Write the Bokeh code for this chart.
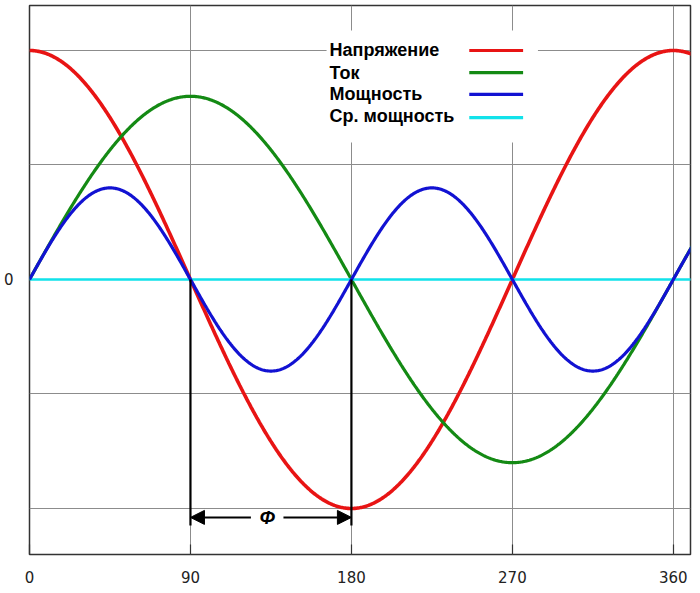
import numpy as np
from bokeh.plotting import figure
from bokeh.models import (FixedTicker, Range1d, Label, Arrow, NormalHead,
                          BoxAnnotation)
from bokeh.embed import file_html
from bokeh.resources import INLINE

# ---- data ----
x_ticks = [0, 90, 180, 270, 360]
x_tick_labels = ["0", "90", "180", "270", "360"]
y_grid_ticks = [-1.0, -0.5, 0.0, 0.5, 1.0]
voltage_amplitude = 1.0      # cosine
current_amplitude = 0.8      # sine (lags voltage by 90 deg)
phase_shift_deg = 90
avg_power = 0.0
series_names = ["Напряжение", "Ток", "Мощность", "Ср. мощность"]
series_colors = ["#e81414", "#148a14", "#1212d2", "#12e2ea"]

# angle samples (function plot)
deg = np.linspace(0, 372, 745)
rad = np.radians(deg)
voltage = voltage_amplitude * np.cos(rad)
current = current_amplitude * np.sin(rad)
power = voltage * current
avg = np.full_like(deg, avg_power)

# ---- figure ----
p = figure(width=700, height=593, output_backend="svg", toolbar_location=None,
           x_range=Range1d(0, 369.6), y_range=Range1d(-1.201, 1.1965),
           min_border_left=27, min_border_right=10, min_border_top=5,
           min_border_bottom=39)
p.background_fill_color = "white"
p.border_fill_color = "white"
p.outline_line_color = "#333333"
p.outline_line_width = 1.5

# grids
p.xgrid.ticker = FixedTicker(ticks=x_ticks)
p.ygrid.ticker = FixedTicker(ticks=y_grid_ticks)
for g in (p.xgrid, p.ygrid):
    g.grid_line_color = "#8c8c8c"
    g.grid_line_width = 1

# x axis
xa = p.xaxis[0]
xa.ticker = FixedTicker(ticks=x_ticks)
xa.major_label_overrides = {t: l for t, l in zip(x_ticks, x_tick_labels)}
xa.axis_line_color = None
xa.major_tick_in = 10
xa.major_tick_out = 0
xa.major_tick_line_color = "#333333"
xa.major_tick_line_width = 1.2
xa.minor_tick_line_color = None
xa.major_label_standoff = 16
xa.major_label_text_font = "DejaVu Sans"
xa.major_label_text_font_size = "15px"
xa.major_label_text_color = "#222222"

# y axis
ya = p.yaxis[0]
ya.ticker = FixedTicker(ticks=[0])
ya.axis_line_color = None
ya.major_tick_line_color = None
ya.minor_tick_line_color = None
ya.major_label_standoff = 10
ya.major_label_text_font = "DejaVu Sans"
ya.major_label_text_font_size = "15px"
ya.major_label_text_color = "#222222"

# curves
p.line(deg, voltage, line_color=series_colors[0], line_width=3.6)
p.line(deg, current, line_color=series_colors[1], line_width=3.2)
p.line(deg, avg, line_color=series_colors[3], line_width=2.6)
p.line(deg, power, line_color=series_colors[2], line_width=3.2)

# phase markers
p.segment(x0=[90, 180], y0=[0, 0], x1=[90, 180], y1=[-1.074, -1.074],
          line_color="black", line_width=2.2)
arrow_y = -1.039
phi_x = 133.0
gap_left, gap_right = 123.8, 142.0
head = dict(size=14, fill_color="black", line_color="black")
p.add_layout(Arrow(x_start=gap_left, y_start=arrow_y, x_end=90, y_end=arrow_y,
                   line_color="black", line_width=2, start=None,
                   end=NormalHead(**head)))
p.add_layout(Arrow(x_start=gap_right, y_start=arrow_y, x_end=180, y_end=arrow_y,
                   line_color="black", line_width=2, start=None,
                   end=NormalHead(**head)))
p.add_layout(Label(x=phi_x, y=arrow_y, text="\u03a6", text_align="center",
                   text_baseline="middle", text_font="Liberation Sans",
                   text_font_style="bold italic", text_font_size="19px",
                   text_color="black"))

# legend (label left, line sample right)
p.add_layout(BoxAnnotation(left=166.1, right=284.3, bottom=0.598, top=1.087,
                           fill_color="white", fill_alpha=1.0, line_color=None))
leg_text_x = 167.8
leg_y = [1.0, 0.9, 0.808, 0.716]
leg_line_x = (245.9, 276.0)
leg_line_y = [1.0, 0.903, 0.808, 0.707]
for name, color, ty, ly in zip(series_names, series_colors, leg_y, leg_line_y):
    p.add_layout(Label(x=leg_text_x, y=ty, text=name, text_align="left",
                       text_baseline="middle", text_font="Liberation Sans",
                       text_font_style="bold", text_font_size="18px",
                       text_color="black"))
    p.add_layout(Arrow(x_start=leg_line_x[0], y_start=ly, x_end=leg_line_x[1],
                       y_end=ly, line_color=color, line_width=3.2,
                       start=None, end=None))

open("out.html", "w").write(file_html(p, INLINE))
